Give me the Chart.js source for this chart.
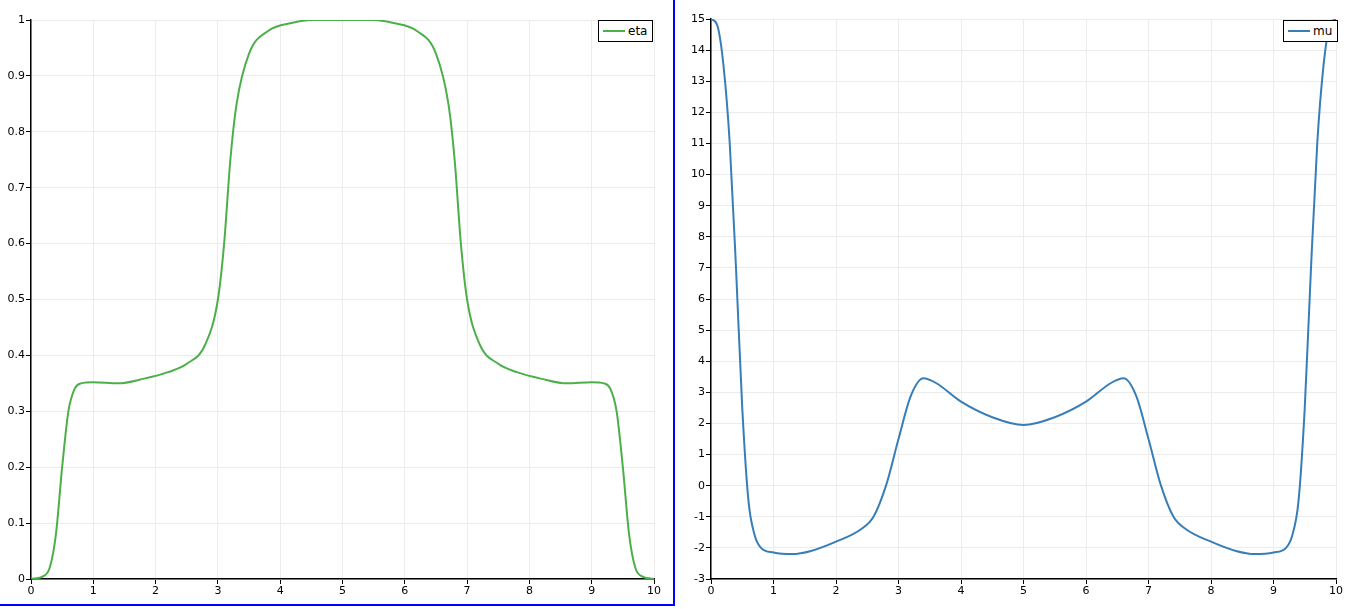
<!DOCTYPE html>
<html><head><meta charset="utf-8">
<script src="https://cdn.jsdelivr.net/npm/chart.js@4"></script>
<style>
 body{margin:0;background:#fff;width:1360px;height:609px;position:relative;overflow:hidden;font-family:"DejaVu Sans",sans-serif}
 .panel{position:absolute;top:0}
 #lp{left:0;width:676px;height:608px}
 #rp{left:678px;width:682px;height:608px;background:#fff}
 #lb{position:absolute;left:0;top:0;width:673px;height:604px;border:2px solid #0000ff;border-top:none;border-left:none;pointer-events:none}
 .leg{position:absolute;border:1px solid #000;background:#fff;font-size:12px;height:20px;line-height:20px;padding:0 5px 0 4px;display:flex;align-items:center}
 .leg span{display:inline-block;width:22px;height:2px;margin-right:3px}
</style></head><body>
<div class="panel" id="lp"><canvas id="c1" width="676" height="608"></canvas></div>
<div class="panel" id="rp"><canvas id="c2" width="682" height="608"></canvas></div>
<div id="lb"></div>
<div class="leg" style="left:598px;top:20px"><span style="background:#4daf4a"></span>eta</div>
<div class="leg" style="left:1283px;top:20px"><span style="background:#377eb8"></span>mu</div>
<script>
/* ─── Data ─────────────────────────────────────────────── */
const etaX = [0,0.2,0.3,0.4,0.5,0.6,0.7,0.8,1.0,1.4,1.8,2.2,2.5,2.8,3.0,3.1,3.2,3.3,3.5,3.8,4.2,4.5,5.5,5.8,6.2,6.5,6.7,6.8,6.9,7.0,7.2,7.5,7.8,8.2,8.6,9.0,9.2,9.3,9.4,9.5,9.6,9.7,9.8,10];
const etaY = [0,0.005,0.02,0.08,0.2,0.3,0.34,0.35,0.352,0.35,0.358,0.37,0.385,0.42,0.5,0.6,0.75,0.85,0.94,0.98,0.995,1,1,0.995,0.98,0.94,0.85,0.75,0.6,0.5,0.42,0.385,0.37,0.358,0.35,0.352,0.35,0.34,0.3,0.2,0.08,0.02,0.005,0];
const muX = [0,0.1,0.2,0.3,0.4,0.5,0.6,0.7,0.8,1.0,1.3,1.6,2.0,2.4,2.6,2.8,3.0,3.2,3.4,3.6,4.0,4.5,5.0,5.5,6.0,6.4,6.6,6.8,7.0,7.2,7.4,7.6,8.0,8.4,8.7,9.0,9.2,9.3,9.4,9.5,9.6,9.7,9.8,9.9,10];
const muY = [15,14.8,13.5,11,7,2.5,-0.5,-1.6,-2.0,-2.15,-2.2,-2.1,-1.8,-1.4,-1.0,0,1.5,2.9,3.45,3.3,2.7,2.2,1.95,2.2,2.7,3.3,3.45,2.9,1.5,0,-1.0,-1.4,-1.8,-2.1,-2.2,-2.15,-2.0,-1.6,-0.5,2.5,7,11,13.5,14.8,15];

const FONT = { family: 'DejaVu Sans', size: 11 };
function axis(min, max, step, fitW, fitH) {
  return {
    type: 'linear', min, max,
    grid: { color: '#ececec', tickColor: '#000', tickLength: 5, lineWidth: 1 },
    border: { color: '#000', width: 1.5 },
    ticks: { color: '#000', font: FONT, stepSize: step, padding: 1, autoSkip: false, maxRotation: 0,
      callback: v => String(+Number(v).toFixed(1)) },
    afterFit: s => { if (fitW) s.width = fitW; if (fitH) s.height = fitH; }
  };
}
function makeChart(id, xs, ys, color, ymin, ymax, ystep, pad, yW) {
  new Chart(document.getElementById(id), {
    type: 'line',
    data: { datasets: [{ data: xs.map((x, i) => ({ x, y: ys[i] })), borderColor: color, borderWidth: 2,
      pointRadius: 0, cubicInterpolationMode: 'monotone', fill: false }] },
    options: {
      responsive: false, animation: false, events: [],
      layout: { padding: pad },
      plugins: { legend: { display: false }, tooltip: { enabled: false } },
      scales: { x: axis(0, 10, 1, 0, 29), y: axis(ymin, ymax, ystep, yW, 0) }
    }
  });
}
makeChart('c1', etaX, etaY, '#4daf4a', 0, 1, 0.1, { left: 0, top: 20, right: 22, bottom: 0 }, 31);
makeChart('c2', muX, muY, '#377eb8', -3, 15, 1, { left: 0, top: 19, right: 24, bottom: 0 }, 33);
</script>
</body></html>
